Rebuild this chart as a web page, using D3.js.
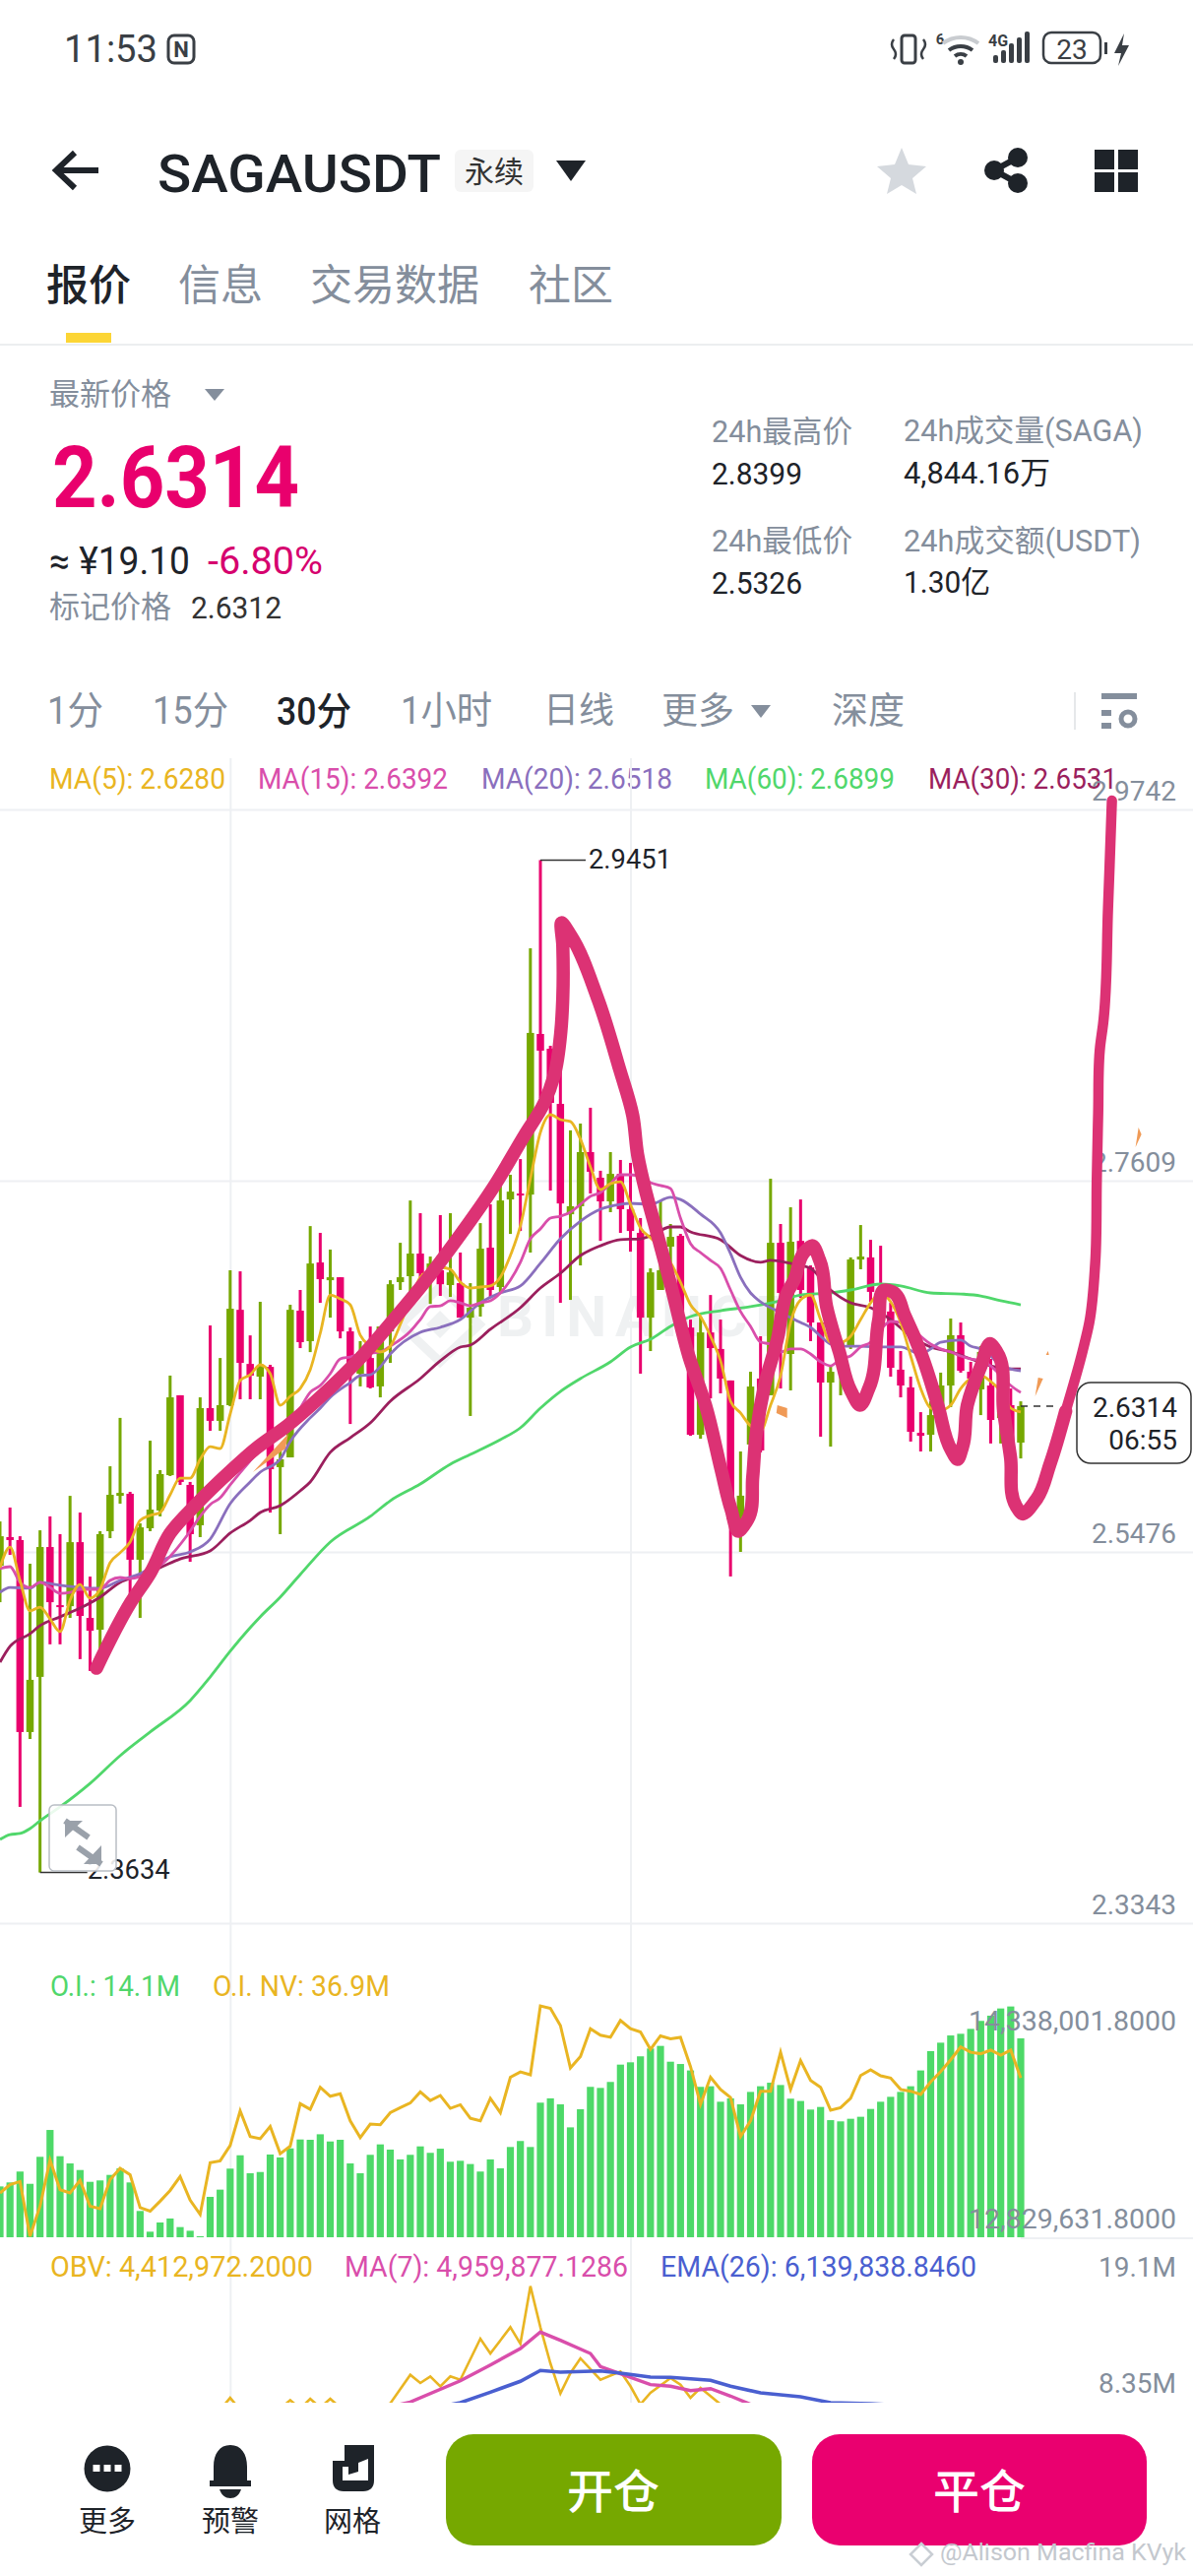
<!DOCTYPE html>
<html lang="zh">
<head>
<meta charset="UTF-8">
<title>SAGAUSDT</title>
<script src="https://d3js.org/d3.v7.min.js"></script>
<style>
  html, body { margin: 0; padding: 0; background: #fff; }
  svg { display: block; font-family: Roboto, "Noto Sans CJK SC", sans-serif; }
  .domain { display: none; }
</style>
</head>
<body>
<svg id="chart" width="1212" height="2616"></svg>
<script>
// candles, one entry per 30 min bar
const candleOpen = [2.5397,2.5561,2.5544,2.4441,2.4758,2.5504,2.5170,2.5164,2.5532,2.5097,2.5029,2.5595,2.5798,2.5810,2.5431,2.5612,2.5714,2.5917,2.6376,2.5861,2.5629,2.6302,2.6229,2.6319,2.6867,2.6556,2.6483,2.6539,2.5963,2.6019,2.6862,2.6687,2.7139,2.7037,2.7054,2.6743,2.6500,2.6590,2.6427,2.6743,2.7026,2.7060,2.7190,2.7037,2.7094,2.7009,2.7020,2.6822,2.6884,2.7224,2.6998,2.7501,2.7535,2.7529,2.8452,2.8367,2.8050,2.7416,2.7462,2.7773,2.7626,2.7490,2.7648,2.7445,2.7309,2.6822,2.6981,2.7230,2.7292,2.6765,2.6149,2.6737,2.6642,2.6461,2.5680,2.6093,2.6472,2.6376,2.7252,2.6613,2.7263,2.7111,2.6794,2.6449,2.6642,2.6659,2.7156,2.7168,2.6964,2.6857,2.6523,2.6421,2.6160,2.6149,2.6262,2.6432,2.6721,2.6511,2.6410,2.6432,2.6245,2.6319,2.6104];
const candleHigh = [2.5651,2.5731,2.5566,2.5408,2.5600,2.5680,2.5578,2.5798,2.5702,2.5334,2.5595,2.5968,2.6246,2.5821,2.5640,2.6115,2.5946,2.6489,2.6376,2.5878,2.6364,2.6777,2.6590,2.7094,2.7088,2.6720,2.6913,2.6551,2.6070,2.6896,2.6981,2.7348,2.7309,2.7213,2.7054,2.6765,2.6687,2.6771,2.6771,2.7037,2.7252,2.7495,2.7422,2.7173,2.7411,2.7422,2.7196,2.7020,2.7365,2.7473,2.7603,2.7643,2.7733,2.8944,2.9451,2.8384,2.8265,2.7898,2.7937,2.8028,2.7666,2.7773,2.7728,2.7711,2.7394,2.7105,2.7490,2.7360,2.7303,2.6811,2.6828,2.6952,2.6811,2.6461,2.6053,2.6511,2.6715,2.7620,2.7360,2.7456,2.7501,2.7122,2.6794,2.6540,2.6698,2.7168,2.7354,2.7269,2.7235,2.6907,2.6630,2.6483,2.6279,2.6341,2.6506,2.6817,2.6794,2.6568,2.6659,2.6585,2.6472,2.6415,2.6341];
const candleLow = [2.5187,2.5459,2.4011,2.4401,2.3634,2.4945,2.4945,2.5097,2.4860,2.4792,2.4917,2.5555,2.5753,2.5187,2.5097,2.5595,2.5680,2.5912,2.5861,2.5419,2.5561,2.6172,2.6172,2.6313,2.6353,2.6353,2.6353,2.5702,2.5578,2.6019,2.6647,2.6624,2.6907,2.6822,2.6703,2.6211,2.6427,2.6415,2.6364,2.6562,2.6981,2.6952,2.7037,2.6901,2.6947,2.6941,2.6822,2.6257,2.6828,2.6935,2.6964,2.7303,2.7320,2.7196,2.8084,2.7552,2.6907,2.6924,2.7122,2.7535,2.7263,2.7428,2.7309,2.7201,2.6500,2.6630,2.6981,2.7054,2.6811,2.6143,2.6126,2.6358,2.6387,2.5335,2.5476,2.5963,2.6048,2.6376,2.6415,2.6404,2.6935,2.6687,2.6138,2.6081,2.6376,2.6642,2.7100,2.6913,2.6811,2.6483,2.6364,2.6110,2.6053,2.6053,2.6262,2.6308,2.6506,2.6319,2.6262,2.6099,2.6099,2.6019,2.6013];
const candleClose = [2.5566,2.5544,2.4441,2.4741,2.5504,2.5187,2.5159,2.5532,2.5108,2.5023,2.5578,2.5804,2.5815,2.5431,2.5617,2.5719,2.5923,2.6364,2.5878,2.5578,2.6302,2.6229,2.6319,2.6873,2.6562,2.6489,2.6539,2.5951,2.6008,2.6867,2.6681,2.7133,2.7043,2.7054,2.6743,2.6562,2.6624,2.6421,2.6771,2.7014,2.7054,2.7190,2.7077,2.7133,2.7014,2.7082,2.6822,2.6879,2.7218,2.6981,2.7495,2.7546,2.7529,2.8458,2.8356,2.8056,2.7478,2.7462,2.7773,2.7660,2.7490,2.7648,2.7445,2.7320,2.6822,2.7082,2.7094,2.7286,2.6850,2.6149,2.6737,2.6647,2.6472,2.5663,2.5799,2.6426,2.6059,2.7252,2.6964,2.7258,2.6981,2.6794,2.6449,2.6511,2.6681,2.7156,2.7173,2.6970,2.6952,2.6534,2.6432,2.6166,2.6143,2.6262,2.6432,2.6721,2.6517,2.6472,2.6625,2.6234,2.6285,2.6115,2.6314];

// moving averages, read at the candle index listed next to them
const ma5 = [2.5386,2.5504,2.5312,2.5137,2.5159,2.5091,2.5018,2.5199,2.5289,2.5210,2.5261,2.5414,2.5471,2.5533,2.5657,2.5685,2.5702,2.5804,2.5900,2.5900,2.6008,2.6081,2.6070,2.6268,2.6461,2.6494,2.6551,2.6500,2.6319,2.6370,2.6415,2.6523,2.6732,2.6952,2.6930,2.6896,2.6721,2.6658,2.6625,2.6658,2.6783,2.6924,2.7054,2.7094,2.7111,2.7100,2.7026,2.6992,2.6998,2.7004,2.7054,2.7179,2.7349,2.7620,2.7886,2.7988,2.7960,2.7949,2.7847,2.7688,2.7558,2.7592,2.7603,2.7473,2.7337,2.7281,2.7224,2.7140,2.7026,2.6896,2.6828,2.6715,2.6574,2.6342,2.6274,2.6200,2.6172,2.6319,2.6489,2.6794,2.6924,2.6952,2.6811,2.6681,2.6681,2.6715,2.6811,2.6907,2.6964,2.6913,2.6794,2.6602,2.6415,2.6302,2.6291,2.6319,2.6415,2.6472,2.6489,2.6455,2.6398,2.6302,2.6280];

const ma15Idx = [0,1,2,3,4,5,6,7,8,9,10,11,12,13,14,16,19,20,21,22,23,26,30,31,32,33,34,35,36,38,39,41,42,43,44,45,46,47,48,49,50,51,52,53,54,55,56,57,58,59,60,61,62,63,64,65,66,67,68,69,70,71,72,73,74,75,76,77,78,79,80,81,82,83,84,85,86,87,88,89,90,91,92,93,94,95,96,97,98,99,100,101,102];
const ma15 = [2.5380,2.5391,2.5301,2.5272,2.5301,2.5272,2.5238,2.5244,2.5261,2.5261,2.5261,2.5312,2.5329,2.5323,2.5334,2.5397,2.5595,2.5680,2.5748,2.5787,2.5861,2.6065,2.6302,2.6393,2.6432,2.6500,2.6585,2.6596,2.6613,2.6625,2.6658,2.6743,2.6811,2.6885,2.6890,2.6919,2.6907,2.6890,2.6907,2.6919,2.6964,2.7037,2.7140,2.7275,2.7332,2.7394,2.7405,2.7428,2.7473,2.7519,2.7541,2.7592,2.7643,2.7643,2.7632,2.7598,2.7581,2.7564,2.7394,2.7247,2.7196,2.7151,2.7105,2.6981,2.6857,2.6772,2.6681,2.6670,2.6625,2.6642,2.6642,2.6613,2.6568,2.6545,2.6585,2.6602,2.6653,2.6681,2.6755,2.6800,2.6794,2.6772,2.6715,2.6670,2.6642,2.6625,2.6602,2.6585,2.6574,2.6545,2.6489,2.6432,2.6392];

const ma20Idx = [0,1,3,4,6,8,10,12,14,17,19,21,23,25,26,28,29,31,32,33,35,36,37,38,39,42,44,46,48,50,52,54,56,58,60,62,63,65,67,68,70,72,73,74,75,76,78,79,80,81,82,83,84,86,88,90,92,93,94,96,97,98,99,100,102];
const ma20 = [2.5244,2.5272,2.5267,2.5301,2.5284,2.5272,2.5267,2.5312,2.5352,2.5448,2.5476,2.5549,2.5753,2.5878,2.5934,2.6008,2.6110,2.6246,2.6302,2.6364,2.6449,2.6489,2.6494,2.6540,2.6613,2.6738,2.6766,2.6811,2.6907,2.6964,2.7004,2.7134,2.7275,2.7377,2.7445,2.7473,2.7479,2.7473,2.7513,2.7501,2.7417,2.7309,2.7190,2.7054,2.6964,2.6913,2.6851,2.6822,2.6794,2.6766,2.6715,2.6670,2.6658,2.6658,2.6653,2.6653,2.6613,2.6642,2.6681,2.6693,2.6658,2.6642,2.6602,2.6545,2.6517];

const ma30Idx = [0,1,3,4,6,8,10,12,14,16,18,21,23,25,26,28,30,31,33,35,37,39,42,44,46,47,49,52,54,56,58,60,62,64,65,67,68,69,72,74,76,77,79,80,81,83,85,87,89,91,93,95,97,99,101,102];
const ma30 = [2.4842,2.4933,2.5006,2.5052,2.5103,2.5153,2.5216,2.5301,2.5340,2.5386,2.5436,2.5482,2.5584,2.5657,2.5702,2.5742,2.5827,2.5878,2.6048,2.6132,2.6217,2.6342,2.6472,2.6574,2.6653,2.6664,2.6755,2.6879,2.6992,2.7077,2.7179,2.7235,2.7270,2.7275,2.7292,2.7343,2.7343,2.7315,2.7270,2.7179,2.7140,2.7151,2.7134,2.7122,2.7105,2.6981,2.6907,2.6879,2.6811,2.6715,2.6653,2.6625,2.6585,2.6545,2.6528,2.6528];

const ma60Idx = [0,1,2,3,4,6,9,12,15,19,21,23,26,28,30,33,37,39,42,45,47,50,52,54,56,58,61,63,65,67,69,72,75,78,80,83,85,88,90,93,96,98,100,102];
const ma60 = [2.3824,2.3852,2.3858,2.3886,2.3931,2.4011,2.4146,2.4305,2.4441,2.4622,2.4757,2.4905,2.5103,2.5216,2.5346,2.5533,2.5680,2.5770,2.5866,2.5980,2.6036,2.6121,2.6189,2.6302,2.6398,2.6472,2.6568,2.6653,2.6698,2.6772,2.6828,2.6862,2.6885,2.6919,2.6952,2.6964,2.6981,2.7015,2.7004,2.6964,2.6958,2.6947,2.6919,2.6896];

// open interest (millions) and its notional value (millions)
const openInterest = [13.161,13.187,13.258,13.178,13.354,13.529,13.358,13.311,13.268,13.191,13.200,13.236,13.279,13.187,13.001,12.866,12.926,12.952,12.896,12.872,12.836,13.093,13.140,13.277,13.364,13.247,13.255,13.369,13.350,13.409,13.467,13.465,13.501,13.454,13.465,13.311,13.247,13.367,13.435,13.401,13.337,13.367,13.422,13.380,13.407,13.322,13.328,13.307,13.258,13.337,13.279,13.418,13.457,13.418,13.707,13.735,13.696,13.546,13.664,13.810,13.803,13.842,13.955,13.970,14.009,14.060,14.077,13.974,13.959,13.917,13.810,13.814,13.713,13.735,13.696,13.777,13.814,13.837,13.822,13.733,13.718,13.662,13.679,13.593,13.585,13.602,13.615,13.666,13.713,13.745,13.777,13.814,13.917,14.043,14.098,14.145,14.156,14.188,14.240,14.274,14.321,14.334,14.126];
const openInterestNV = [33.68,33.91,34.00,32.47,33.31,34.60,33.77,33.68,34.03,33.31,33.24,34.05,34.37,34.19,33.27,33.17,33.45,33.75,34.14,33.48,33.08,34.53,34.58,35.01,35.98,35.26,35.20,35.54,34.78,34.99,36.18,36.02,36.64,36.39,36.46,35.70,35.23,35.61,35.59,35.93,36.07,36.20,36.51,36.27,36.41,36.05,36.15,35.77,35.70,36.33,35.93,36.92,37.07,36.99,38.92,38.85,38.37,37.18,37.50,38.28,38.10,38.04,38.51,38.28,38.19,37.70,38.08,38.00,38.04,37.22,36.16,36.92,36.58,36.35,35.26,35.70,36.53,36.53,37.62,36.58,37.39,36.83,36.64,36.00,36.07,36.33,36.97,37.13,36.96,36.90,36.58,36.53,36.44,36.79,37.08,37.41,37.77,37.62,37.58,37.68,37.54,37.68,36.90];

// OBV pane, in millions; only the part above the bottom bar is visible
const obvIdx = [22,23,24,28,29,30,31,32,33,34,37,39,41,42,43,44,45,46,48,49,51,52,53,54,55,56,57,58,60,62,63,64,65,67,68,69,70,72,73];
const obv = [7.6,8.71,7.6,7.7,8.50,7.7,8.62,7.8,8.62,7.8,7.5,8.2,10.84,10.08,10.69,9.78,10.69,10.38,14.18,12.81,15.24,13.72,19.04,15.24,11.90,9.11,10.99,12.36,10.38,11.14,9.78,8.11,9.17,10.54,9.93,8.71,9.62,8.11,7.5];
const obvMaIdx = [39,41,46,49,52,54,56,59,60,62,65,67,69,71,73,75];
const obvMa = [7.9,8.32,10.29,11.75,13.27,14.79,14.03,12.81,11.60,10.93,9.93,9.78,9.38,9.56,8.87,8.11];
const obvEmaIdx = [44,46,49,52,54,56,60,62,65,67,71,73,76,80,83,87,90];
const obvEma = [7.9,8.26,9.23,10.24,11.24,11.08,11.20,10.99,10.63,10.60,10.33,9.78,9.17,8.81,8.26,8.17,8.0];

// hand drawn stroke on top of the screenshot, in candle index / price
const handIdx = [9.64,13.08,15.04,17.01,19.67,22.91,25.57,28.81,31.76,36.09,39.33,42.58,45.92,49.16,52.41,54.38,55.36,56.05,56.24,56.24,56.15,57.03,59.69,61.95,63.23,63.72,64.6,65.59,67.16,68.83,70.5,72.07,73.06,73.84,74.73,75.22,75.52,76.4,77.68,78.66,79.35,80.34,81.12,81.91,82.6,83.87,85.05,85.94,86.82,87.81,88.5,89.18,90.46,92.13,93.71,95.08,95.67,96.17,96.66,98.03,99.02,99.61,100.29,100.98,101.57,102.07,103.54,104.92,106.49,108.16,108.85,109.44,109.6,109.74,109.93,110.23,110.72,111.11];
const handPrice = [2.4808,2.5187,2.5357,2.5584,2.5753,2.5934,2.6070,2.6206,2.6353,2.6596,2.6811,2.7037,2.7292,2.7558,2.7869,2.8056,2.8209,2.8469,2.8661,2.8961,2.9091,2.9018,2.8661,2.8243,2.7983,2.7756,2.7530,2.7321,2.6981,2.6602,2.6319,2.5946,2.5719,2.5595,2.5663,2.5906,2.6132,2.6432,2.6698,2.6964,2.7037,2.7196,2.7235,2.7151,2.6885,2.6625,2.6398,2.6319,2.6415,2.6811,2.6981,2.6970,2.6828,2.6602,2.6319,2.6059,2.6008,2.6076,2.6319,2.6545,2.6670,2.6625,2.6285,2.6019,2.5736,2.5697,2.5776,2.5980,2.6285,2.6625,2.6794,2.7134,2.7620,2.8000,2.8379,2.8509,2.9171,2.9793];
// little orange marks left over in the screenshot
const smudges = [
  {idx: [25.27,28.81,28.52], price: [2.5934,2.6155,2.6070]},
  {idx: [77.68,78.66,78.66,77.58], price: [2.6319,2.6302,2.6246,2.6274]},
  {idx: [113.77,114.06,113.47], price: [2.7915,2.7875,2.7802]},
  {idx: [103.74,104.23,103.44], price: [2.6478,2.6472,2.6370]},
  {idx: [104.72,104.82,104.52], price: [2.6630,2.6608,2.6608]}
];

const priceTicks = [2.9742, 2.7609, 2.5476, 2.3343];
const oiTicks = [14338001.8, 12829631.8];
const obvTicks = [19.1, 8.35];
const gridIdx = [23, 63];
const highLabel = 2.9451, lowLabel = 2.3634, lastPrice = 2.6314;

const GREEN = "#76a800", PINK = "#e9006d", DARK = "#1e2329", GREY = "#848e9c", GRID = "#eef0f3";
const YELLOW = "#e9b522", C15 = "#d94eab", C20 = "#8a6fbd", C60 = "#50d76b", C30 = "#9b1f5d", BLUE = "#4a5fd0";

const svg = d3.select("#chart");

// scales
const x = d3.scaleLinear().domain([0, 102]).range([0, 1037]);
const y = d3.scaleLinear().domain([2.3343, 2.9742]).range([1953, 822]);
const yOi = d3.scaleLinear().domain([12.8296318, 14.3380018]).range([2272, 2037]);
const yNv = d3.scaleLinear().domain([32.44, 38.92]).range([2272, 2037]);
const yObv = d3.scaleLinear().domain([8.35, 19.1]).range([2439, 2321]);

function label(sel, px, py, str, o) {
  o = o || {};
  const t = sel.append("text").attr("x", px).attr("y", py)
    .attr("font-size", o.size || 30)
    .attr("font-weight", o.weight || 400)
    .attr("fill", o.fill || DARK)
    .attr("text-anchor", o.anchor || "start")
    .attr("dominant-baseline", "central")
    .text(str);
  if (o.w) t.attr("textLength", o.w).attr("lengthAdjust", "spacingAndGlyphs");
  return t;
}

// ---- header ----
const head = svg.append("g");
label(head, 65, 50, "11:53", {size: 38, fill: "#3a3f45", w: 95});
head.append("rect").attr("x", 171).attr("y", 36).attr("width", 26).attr("height", 28).attr("rx", 6).attr("fill", "none").attr("stroke", "#3a3f45").attr("stroke-width", 3);
label(head, 184, 50, "N", {size: 22, weight: 700, anchor: "middle", fill: "#3a3f45"});
// status icons
head.append("rect").attr("x", 916).attr("y", 36).attr("width", 14).attr("height", 28).attr("rx", 3).attr("fill", "none").attr("stroke", "#3a3f45").attr("stroke-width", 3);
head.append("path").attr("d", "M908 40q-4 5 0 10t0 10M938 40q4 5 0 10t0 10").attr("fill", "none").attr("stroke", "#3a3f45").attr("stroke-width", 2.5);
label(head, 955, 40, "6", {size: 15, weight: 700, anchor: "middle", fill: "#3a3f45"});
head.append("path").attr("d", "M958 44a30 30 0 0 1 36 0").attr("fill", "none").attr("stroke", "#c9ccd0").attr("stroke-width", 4);
head.append("path").attr("d", "M964 51a20 20 0 0 1 24 0M970 57a10 10 0 0 1 12 0").attr("fill", "none").attr("stroke", "#3a3f45").attr("stroke-width", 4);
head.append("circle").attr("cx", 976).attr("cy", 63).attr("r", 3).attr("fill", "#3a3f45");
label(head, 1014, 41, "4G", {size: 16, weight: 700, anchor: "middle", fill: "#3a3f45"});
[[1009,8],[1017,13],[1025,20],[1033,26],[1041,32]].forEach(d => {
  head.append("rect").attr("x", d[0]).attr("y", 64 - d[1]).attr("width", 5).attr("height", d[1]).attr("rx", 2).attr("fill", "#3a3f45");
});
head.append("rect").attr("x", 1060).attr("y", 33).attr("width", 58).attr("height", 31).attr("rx", 8).attr("fill", "none").attr("stroke", "#3a3f45").attr("stroke-width", 2.5);
label(head, 1089, 50, "23", {size: 28, anchor: "middle", fill: "#3a3f45"});
head.append("rect").attr("x", 1122).attr("y", 43).attr("width", 3).attr("height", 12).attr("fill", "#3a3f45");
head.append("path").attr("d", "M1142 34l-10 20h7l-3 13 11-21h-7z").attr("fill", "#3a3f45");

// title row
head.append("path").attr("d", "M100 173H60M76 155L57 173L76 191").attr("fill", "none").attr("stroke", DARK).attr("stroke-width", 6);
label(head, 160, 176, "SAGAUSDT", {size: 54, weight: 500, w: 288});
head.append("rect").attr("x", 462).attr("y", 152).attr("width", 80).attr("height", 43).attr("rx", 6).attr("fill", "#f5f5f5");
label(head, 502, 174, "永续", {size: 30, anchor: "middle", fill: "#333"});
head.append("path").attr("d", "M565 163H595L580 184Z").attr("fill", DARK);
head.append("path").attr("d", "M916 150l7 17 18 2-14 12 4 16-15-9-15 9 4-16-14-12 18-2z").attr("fill", "#d5d9de");
head.append("path").attr("d", "M1034 160L1010 173L1034 186").attr("fill", "none").attr("stroke", DARK).attr("stroke-width", 6);
[[1034,160],[1010,173],[1034,186]].forEach(d => head.append("circle").attr("cx", d[0]).attr("cy", d[1]).attr("r", 10).attr("fill", DARK));
[[1112,152],[1136,152],[1112,175],[1136,175]].forEach(d => {
  head.append("rect").attr("x", d[0]).attr("y", d[1]).attr("width", 20).attr("height", 20).attr("fill", DARK);
});

// tabs
label(head, 47, 290, "报价", {size: 43, weight: 500});
label(head, 181, 290, "信息", {size: 43, fill: GREY});
label(head, 315, 290, "交易数据", {size: 43, fill: GREY});
label(head, 537, 290, "社区", {size: 43, fill: GREY});
head.append("rect").attr("x", 67).attr("y", 338).attr("width", 46).attr("height", 10).attr("fill", "#fcd535");
head.append("rect").attr("x", 0).attr("y", 349).attr("width", 1212).attr("height", 2).attr("fill", "#eceef0");

// price block
label(head, 50, 400, "最新价格", {size: 31, fill: GREY});
head.append("path").attr("d", "M208 395H228L218 407Z").attr("fill", GREY);
label(head, 53, 484, "2.6314", {size: 88, weight: 700, fill: PINK, w: 251});
label(head, 50, 570, "≈ ¥19.10", {size: 38, w: 143});
label(head, 211, 570, "-6.80%", {size: 38, fill: "#d6006e", w: 117});
label(head, 50, 616, "标记价格", {size: 31, fill: GREY});
label(head, 194, 617, "2.6312", {size: 31, fill: "#333", w: 92});

label(head, 723, 438, "24h最高价", {size: 31, fill: GREY, w: 143});
label(head, 723, 481, "2.8399", {size: 31, w: 92});
label(head, 723, 549, "24h最低价", {size: 31, fill: GREY, w: 143});
label(head, 723, 592, "2.5326", {size: 31, w: 92});
label(head, 918, 437, "24h成交量(SAGA)", {size: 31, fill: GREY, w: 243});
label(head, 918, 480, "4,844.16万", {size: 31, w: 149});
label(head, 918, 549, "24h成交额(USDT)", {size: 31, fill: GREY, w: 241});
label(head, 918, 591, "1.30亿", {size: 31, w: 88});

// interval row
label(head, 48, 722, "1分", {size: 39, fill: GREY, w: 57});
label(head, 155, 722, "15分", {size: 39, fill: GREY, w: 77});
label(head, 281, 723, "30分", {size: 39, weight: 500, w: 76});
label(head, 407, 722, "1小时", {size: 39, fill: GREY, w: 93});
label(head, 552, 722, "日线", {size: 36, fill: GREY});
label(head, 672, 722, "更多", {size: 37, fill: GREY});
head.append("path").attr("d", "M763 716H783L773 729Z").attr("fill", GREY);
label(head, 845, 722, "深度", {size: 37, fill: GREY});
head.append("rect").attr("x", 1091).attr("y", 703).attr("width", 2).attr("height", 38).attr("fill", "#e6e8ea");
head.append("rect").attr("x", 1119).attr("y", 704).attr("width", 36).attr("height", 6).attr("fill", GREY);
head.append("rect").attr("x", 1119).attr("y", 721).attr("width", 10).attr("height", 6).attr("fill", GREY);
head.append("rect").attr("x", 1119).attr("y", 734).attr("width", 10).attr("height", 6).attr("fill", GREY);
head.append("circle").attr("cx", 1146).attr("cy", 730).attr("r", 7).attr("fill", "none").attr("stroke", GREY).attr("stroke-width", 5);

// ---- grid ----
const grid = svg.append("g");
grid.append("g").attr("transform", "translate(0,0)")
  .call(d3.axisRight(y).tickValues(priceTicks).tickSize(1212).tickFormat(""))
  .selectAll("line").attr("stroke", GRID).attr("stroke-width", 2);
grid.append("g").attr("transform", "translate(0,770)")
  .call(d3.axisBottom(x).tickValues(gridIdx).tickSize(1670).tickFormat(""))
  .selectAll("line").attr("stroke", GRID).attr("stroke-width", 2);
grid.append("line").attr("x1", 1037).attr("x2", 1212).attr("y1", 2273).attr("y2", 2273).attr("stroke", GRID).attr("stroke-width", 2);

// legend, above the vertical grid lines
label(head, 50, 791, "MA(5): 2.6280", {size: 29, fill: YELLOW, w: 179});
label(head, 262, 791, "MA(15): 2.6392", {size: 29, fill: C15, w: 193});
label(head, 489, 791, "MA(20): 2.6518", {size: 29, fill: C20, w: 194});
label(head, 716, 791, "MA(60): 2.6899", {size: 29, fill: C60, w: 193});
label(head, 943, 791, "MA(30): 2.6531", {size: 29, fill: C30, w: 192});

// watermark
const mark = svg.append("g").attr("fill", "#eff1f2");
mark.append("text").attr("x", 505).attr("y", 1357).attr("font-size", 58).attr("font-weight", 700)
  .attr("textLength", 295).attr("lengthAdjust", "spacing").text("BINANCE");
mark.append("path").attr("d", "M447 1307L487 1345L447 1383L407 1345Z").attr("fill", "none").attr("stroke", "#eff1f2").attr("stroke-width", 9);
mark.append("path").attr("d", "M447 1331L461 1345L447 1359L433 1345Z");

// ---- candles ----
const candleRows = d3.range(candleOpen.length).map(i => ({
  i, o: candleOpen[i], h: candleHigh[i], l: candleLow[i], c: candleClose[i]
}));
const candles = svg.append("g").selectAll("g").data(candleRows).join("g")
  .attr("fill", d => d.c >= d.o ? GREEN : PINK);
candles.append("rect")
  .attr("x", d => x(d.i) - 1.5).attr("width", 3)
  .attr("y", d => y(d.h)).attr("height", d => y(d.l) - y(d.h));
candles.append("rect")
  .attr("x", d => x(d.i) - 3.75).attr("width", 7.5)
  .attr("y", d => y(Math.max(d.o, d.c)))
  .attr("height", d => Math.max(2, Math.abs(y(d.o) - y(d.c))));

// ---- moving averages ----
function series(idx, vals) { return idx.map((k, j) => [k, vals[j]]); }
const priceLine = d3.line().x(d => x(d[0])).y(d => y(d[1])).curve(d3.curveMonotoneX);
[
  [series(ma60Idx, ma60), C60],
  [series(ma30Idx, ma30), C30],
  [series(ma20Idx, ma20), C20],
  [series(ma15Idx, ma15), C15],
  [series(d3.range(ma5.length), ma5), YELLOW]
].forEach(d => {
  svg.append("path").datum(d[0]).attr("d", priceLine)
    .attr("fill", "none").attr("stroke", d[1]).attr("stroke-width", 2.8);
});

// ---- price axis labels ----
const priceAxis = svg.append("g").attr("transform", "translate(1195,0)")
  .call(d3.axisRight(y).tickValues(priceTicks).tickSize(0).tickPadding(0).tickFormat(d3.format(".4f")));
priceAxis.selectAll("text").attr("font-size", 28).attr("fill", GREY).attr("text-anchor", "end")
  .attr("font-family", "Roboto").attr("dy", "-0.35em");

// high / low callouts
svg.append("line").attr("x1", x(54)).attr("x2", x(54) + 46).attr("y1", y(highLabel)).attr("y2", y(highLabel)).attr("stroke", "#333").attr("stroke-width", 1.5);
label(svg, x(54) + 49, y(highLabel) - 1, highLabel.toFixed(4), {size: 28, w: 84});
svg.append("line").attr("x1", x(4)).attr("x2", x(4) + 48).attr("y1", y(lowLabel)).attr("y2", y(lowLabel)).attr("stroke", "#333").attr("stroke-width", 1.5);
label(svg, x(4) + 48, y(lowLabel) - 3, lowLabel.toFixed(4), {size: 28, w: 84});

// expand button
svg.append("rect").attr("x", 50).attr("y", 1833).attr("width", 68).attr("height", 67).attr("rx", 5)
  .attr("fill", "#fff").attr("fill-opacity", 0.88).attr("stroke", "#b9bec5").attr("stroke-width", 1.5);
svg.append("path").attr("d", "M66 1849L90 1866M79 1876L103 1893").attr("stroke", "#9aa1aa").attr("stroke-width", 6);
svg.append("path").attr("d", "M66 1849H84L66 1866ZM103 1893H85L103 1874Z").attr("fill", "#9aa1aa");

// current price tag
svg.append("line").attr("x1", x(102)).attr("x2", 1075).attr("y1", y(lastPrice)).attr("y2", y(lastPrice))
  .attr("stroke", "#333").attr("stroke-width", 1.5).attr("stroke-dasharray", "7 6");
svg.append("rect").attr("x", 1094).attr("y", 1404).attr("width", 116).attr("height", 82).attr("rx", 14)
  .attr("fill", "#fff").attr("stroke", "#333").attr("stroke-width", 1.5);
label(svg, 1196, 1429, lastPrice.toFixed(4), {size: 28, anchor: "end"});
label(svg, 1196, 1462, "06:55", {size: 28, anchor: "end"});

// ---- open interest pane ----
label(svg, 51, 2017, "O.I.: 14.1M", {size: 29, fill: C60, w: 132});
label(svg, 216, 2017, "O.I. NV: 36.9M", {size: 29, fill: YELLOW, w: 180});
svg.append("g").selectAll("rect").data(openInterest).join("rect")
  .attr("x", (d, i) => x(i) - 3.6).attr("width", 7.2)
  .attr("y", d => yOi(d)).attr("height", d => 2272 - yOi(d))
  .attr("fill", "#4dd968");
svg.append("path").datum(openInterestNV)
  .attr("d", d3.line().x((d, i) => x(i)).y(d => yNv(d)))
  .attr("fill", "none").attr("stroke", YELLOW).attr("stroke-width", 3);
const oiAxis = svg.append("g").attr("transform", "translate(1195,0)")
  .call(d3.axisRight(d3.scaleLinear().domain([12829631.8, 14338001.8]).range([2253, 2052]))
    .tickValues(oiTicks).tickSize(0).tickPadding(0).tickFormat(d3.format(",.4f")));
oiAxis.selectAll("text").attr("font-size", 28.5).attr("fill", GREY).attr("text-anchor", "end").attr("font-family", "Roboto");

// ---- OBV pane ----
label(svg, 51, 2302, "OBV: 4,412,972.2000", {size: 29, fill: YELLOW, w: 267});
label(svg, 350, 2302, "MA(7): 4,959,877.1286", {size: 29, fill: C15, w: 288});
label(svg, 671, 2302, "EMA(26): 6,139,838.8460", {size: 29, fill: BLUE, w: 321});
const clip = svg.append("clipPath").attr("id", "obvClip");
clip.append("rect").attr("x", 0).attr("y", 2310).attr("width", 1212).attr("height", 130);
const obvLine = d3.line().x(d => x(d[0])).y(d => yObv(d[1]));
const obvG = svg.append("g").attr("clip-path", "url(#obvClip)");
[
  [series(obvIdx, obv), YELLOW, 2.6],
  [series(obvMaIdx, obvMa), C15, 3.4],
  [series(obvEmaIdx, obvEma), BLUE, 3.6]
].forEach(d => {
  obvG.append("path").datum(d[0]).attr("d", obvLine)
    .attr("fill", "none").attr("stroke", d[1]).attr("stroke-width", d[2]);
});
const obvAxis = svg.append("g").attr("transform", "translate(1195,0)")
  .call(d3.axisRight(yObv).tickValues(obvTicks).tickSize(0).tickPadding(0).tickFormat(d => d + "M"));
obvAxis.selectAll("text").attr("font-size", 28).attr("fill", GREY).attr("text-anchor", "end")
  .attr("font-family", "Roboto").attr("dy", "-0.35em");

// ---- bottom bar ----
const bar = svg.append("g");
bar.append("circle").attr("cx", 109).attr("cy", 2507).attr("r", 23.5).attr("fill", DARK);
[98, 109, 120].forEach(cx => bar.append("rect").attr("x", cx - 3.5).attr("y", 2503).attr("width", 7).attr("height", 7).attr("fill", "#fff"));
label(bar, 109, 2561, "更多", {size: 29, anchor: "middle"});
bar.append("path").attr("d", "M234 2483c-11 0-17 9-17 22v14h-4v6h42v-6h-4v-14c0-13-6-22-17-22z").attr("fill", DARK);
bar.append("path").attr("d", "M223 2528h22c-2 6-6 9-11 9s-9-3-11-9z").attr("fill", DARK);
label(bar, 234, 2561, "预警", {size: 29, anchor: "middle"});
bar.append("path").attr("d", "M350 2483h30v36c0 7-4 11-11 11h-20c-7 0-11-4-11-11v-20h12z").attr("fill", DARK);
bar.append("path").attr("d", "M348 2519v-14h6v8l10-3v-9l10-4v22z").attr("fill", "#fff");
label(bar, 358, 2561, "网格", {size: 29, anchor: "middle"});

bar.append("rect").attr("x", 453).attr("y", 2472).attr("width", 341).attr("height", 113).attr("rx", 28).attr("fill", GREEN);
label(bar, 623, 2530, "开仓", {size: 47, weight: 500, fill: "#fff", anchor: "middle"});
bar.append("rect").attr("x", 825).attr("y", 2472).attr("width", 340).attr("height", 113).attr("rx", 28).attr("fill", "#ea006f");
label(bar, 995, 2530, "平仓", {size: 47, weight: 500, fill: "#fff", anchor: "middle"});

// ---- pen marks on top ----
const poly = d3.line().x(d => x(d[0])).y(d => y(d[1]));
smudges.forEach(s => {
  svg.append("path").datum(series(s.idx, s.price)).attr("d", d => poly(d) + "Z").attr("fill", "#f09a56");
});
// the pen gets thinner on the long climb at the right
const handPoints = series(handIdx, handPrice);
const handLine = d3.line().x(d => x(d[0])).y(d => y(d[1])).curve(d3.curveCatmullRom.alpha(1));
[
  [handPoints.filter(d => d[0] <= 106.49), 13.5],
  [handPoints.filter(d => d[0] >= 104.92), 10.5]
].forEach(d => {
  svg.append("path").datum(d[0]).attr("d", handLine)
    .attr("fill", "none").attr("stroke", "#dc3274").attr("stroke-width", d[1])
    .attr("stroke-linecap", "round").attr("stroke-linejoin", "round");
});

// site stamp
svg.append("path").attr("d", "M936 2583l11 11-11 11-11-11z").attr("fill", "none").attr("stroke", "#c9ced4").attr("stroke-width", 2.5);
label(svg, 955, 2592, "@Alison Macfina KVyk", {size: 24, fill: "#c4c8ce", w: 250}).attr("font-family", "Roboto");
</script>
</body>
</html>
